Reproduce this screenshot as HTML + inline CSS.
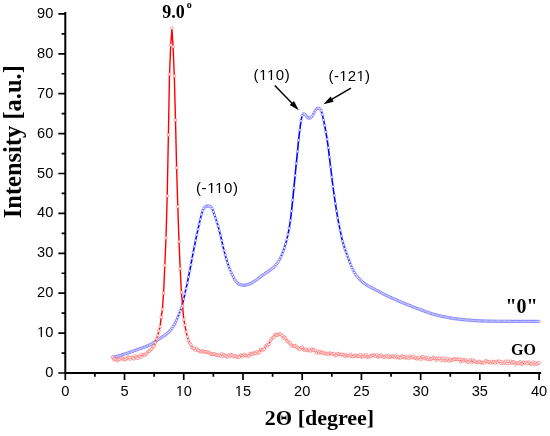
<!DOCTYPE html>
<html><head><meta charset="utf-8"><title>XRD</title>
<style>
html,body{margin:0;padding:0;background:#fff;}
body{width:550px;height:436px;overflow:hidden;}
svg{display:block;}
.s{font-family:"Liberation Sans",Arial,sans-serif;font-size:15px;fill:#000;}
.a{letter-spacing:0.6px;}
.t{font-size:14.6px;}
.b{font-family:"Liberation Serif","Times New Roman",serif;font-weight:bold;fill:#000;}
</style></head><body>
<svg width="550" height="436" viewBox="0 0 550 436">

<path d="M65.30,373.0V380.0M124.53,373.0V380.0M183.75,373.0V380.0M242.98,373.0V380.0M302.20,373.0V380.0M361.43,373.0V380.0M420.65,373.0V380.0M479.88,373.0V380.0M539.10,373.0V380.0M94.91,373.0V376.7M154.14,373.0V376.7M213.36,373.0V376.7M272.59,373.0V376.7M331.81,373.0V376.7M391.04,373.0V376.7M450.26,373.0V376.7M509.49,373.0V376.7M65.3,373.00H58.3M65.3,333.10H58.3M65.3,293.20H58.3M65.3,253.30H58.3M65.3,213.40H58.3M65.3,173.50H58.3M65.3,133.60H58.3M65.3,93.70H58.3M65.3,53.80H58.3M65.3,13.90H58.3M65.3,353.05H61.599999999999994M65.3,313.15H61.599999999999994M65.3,273.25H61.599999999999994M65.3,233.35H61.599999999999994M65.3,193.45H61.599999999999994M65.3,153.55H61.599999999999994M65.3,113.65H61.599999999999994M65.3,73.75H61.599999999999994M65.3,33.85H61.599999999999994" stroke="#000" stroke-width="1.7" fill="none"/>
<path d="M65.3,12.90V373.0H540.10" stroke="#000" stroke-width="2.0" fill="none" stroke-linejoin="miter" stroke-linecap="square"/>
<text class="s t" x="65.30" y="396" text-anchor="middle">0</text>
<text class="s t" x="124.53" y="396" text-anchor="middle">5</text>
<text class="s t" x="183.75" y="396" text-anchor="middle">10</text>
<text class="s t" x="242.98" y="396" text-anchor="middle">15</text>
<text class="s t" x="302.20" y="396" text-anchor="middle">20</text>
<text class="s t" x="361.43" y="396" text-anchor="middle">25</text>
<text class="s t" x="420.65" y="396" text-anchor="middle">30</text>
<text class="s t" x="479.88" y="396" text-anchor="middle">35</text>
<text class="s t" x="539.10" y="396" text-anchor="middle">40</text>
<text class="s t" x="53.3" y="377.00" text-anchor="end">0</text>
<text class="s t" x="53.3" y="337.10" text-anchor="end">10</text>
<text class="s t" x="53.3" y="297.20" text-anchor="end">20</text>
<text class="s t" x="53.3" y="257.30" text-anchor="end">30</text>
<text class="s t" x="53.3" y="217.40" text-anchor="end">40</text>
<text class="s t" x="53.3" y="177.50" text-anchor="end">50</text>
<text class="s t" x="53.3" y="137.60" text-anchor="end">60</text>
<text class="s t" x="53.3" y="97.70" text-anchor="end">70</text>
<text class="s t" x="53.3" y="57.80" text-anchor="end">80</text>
<text class="s t" x="53.3" y="17.90" text-anchor="end">90</text>
<polyline points="112.7,357.4 113.9,357.1 115.0,356.8 116.2,356.5 117.4,356.2 118.6,355.8 119.8,355.5 121.0,355.2 122.2,354.8 123.3,354.4 124.5,354.1 125.7,353.7 126.9,353.3 128.1,352.9 129.3,352.5 130.4,352.1 131.6,351.7 132.8,351.3 134.0,350.8 135.2,350.4 136.4,350.0 137.6,349.5 138.7,349.1 139.9,348.7 141.1,348.3 142.3,347.9 143.5,347.5 144.7,347.0 145.8,346.6 147.0,346.1 148.2,345.6 149.4,345.1 150.6,344.5 151.8,343.9 153.0,343.1 154.1,342.2 155.3,341.4 156.5,340.6 157.7,339.9 158.9,339.2 160.1,338.4 161.2,337.6 162.4,336.9 163.6,336.1 164.8,335.3 166.0,334.4 167.2,333.4 168.4,332.4 169.5,331.2 170.7,329.9 171.9,328.3 173.1,326.6 174.3,324.6 175.5,322.5 176.6,320.2 177.8,317.4 179.0,314.1 180.2,310.9 181.4,307.9 182.6,303.7 183.8,298.9 184.9,293.8 186.1,288.4 187.3,282.8 188.5,277.0 189.7,271.0 190.9,264.8 192.0,258.6 193.2,252.4 194.4,246.3 195.6,240.4 196.8,234.7 198.0,229.3 199.1,224.1 200.3,219.2 201.5,214.4 202.7,210.7 203.9,208.3 205.1,207.0 206.3,206.3 207.4,206.0 208.6,205.9 209.8,206.3 211.0,207.0 212.2,208.5 213.4,211.8 214.5,215.0 215.7,218.3 216.9,222.0 218.1,226.1 219.3,230.6 220.5,235.4 221.7,240.4 222.8,245.5 224.0,250.4 225.2,254.9 226.4,259.1 227.6,262.8 228.8,266.3 229.9,269.4 231.1,272.2 232.3,274.8 233.5,277.3 234.7,279.7 235.9,281.3 237.1,282.6 238.2,283.6 239.4,284.3 240.6,284.7 241.8,285.0 243.0,285.3 244.2,285.3 245.3,285.1 246.5,284.9 247.7,284.5 248.9,284.2 250.1,283.7 251.3,283.2 252.5,282.5 253.6,281.7 254.8,280.9 256.0,280.1 257.2,279.3 258.4,278.4 259.6,277.5 260.7,276.6 261.9,275.7 263.1,274.9 264.3,274.1 265.5,273.2 266.7,272.4 267.8,271.6 269.0,270.8 270.2,270.0 271.4,269.2 272.6,268.3 273.8,267.3 275.0,266.0 276.1,264.6 277.3,263.1 278.5,261.4 279.7,259.4 280.9,256.9 282.1,254.1 283.2,251.1 284.4,247.8 285.6,244.0 286.8,239.6 288.0,234.4 289.2,228.2 290.4,220.5 291.5,211.1 292.7,200.1 293.9,187.9 295.1,175.5 296.3,163.4 297.5,151.5 298.6,140.2 299.8,129.9 301.0,120.9 302.2,115.4 303.4,113.8 304.6,114.3 305.8,115.2 306.9,116.9 308.1,117.8 309.3,118.2 310.5,117.8 311.7,116.8 312.9,115.2 314.0,112.8 315.2,110.7 316.4,109.1 317.6,108.3 318.8,108.3 320.0,108.9 321.2,110.7 322.3,114.4 323.5,119.9 324.7,125.5 325.9,132.0 327.1,139.3 328.3,147.7 329.4,157.1 330.6,167.0 331.8,177.0 333.0,186.6 334.2,195.5 335.4,203.6 336.6,211.0 337.7,217.9 338.9,224.2 340.1,230.2 341.3,235.9 342.5,241.2 343.7,245.0 344.8,248.7 346.0,252.0 347.2,255.4 348.4,258.6 349.6,261.7 350.8,264.7 351.9,267.5 353.1,270.0 354.3,272.4 355.5,274.4 356.7,275.9 357.9,277.3 359.1,278.6 360.2,279.9 361.4,281.0 362.6,282.1 363.8,283.0 365.0,283.8 366.2,284.6 367.3,285.4 368.5,286.1 369.7,286.7 370.9,287.4 372.1,288.0 373.3,288.6 374.5,289.2 375.6,289.9 376.8,290.5 378.0,291.1 379.2,291.7 380.4,292.3 381.6,293.0 382.7,293.6 383.9,294.2 385.1,294.8 386.3,295.3 387.5,295.9 388.7,296.5 389.9,297.0 391.0,297.6 392.2,298.1 393.4,298.7 394.6,299.2 395.8,299.7 397.0,300.3 398.1,300.8 399.3,301.3 400.5,301.8 401.7,302.3 402.9,302.8 404.1,303.3 405.3,303.8 406.4,304.3 407.6,304.7 408.8,305.2 410.0,305.7 411.2,306.1 412.4,306.6 413.5,307.1 414.7,307.5 415.9,308.0 417.1,308.4 418.3,308.9 419.5,309.3 420.7,309.8 421.8,310.2 423.0,310.6 424.2,311.1 425.4,311.5 426.6,312.0 427.8,312.4 428.9,312.8 430.1,313.2 431.3,313.6 432.5,313.9 433.7,314.3 434.9,314.6 436.0,314.9 437.2,315.2 438.4,315.5 439.6,315.7 440.8,316.0 442.0,316.3 443.2,316.5 444.3,316.8 445.5,317.0 446.7,317.2 447.9,317.5 449.1,317.7 450.3,317.9 451.4,318.1 452.6,318.3 453.8,318.5 455.0,318.7 456.2,318.8 457.4,319.0 458.6,319.1 459.7,319.3 460.9,319.4 462.1,319.5 463.3,319.6 464.5,319.8 465.7,319.9 466.8,320.0 468.0,320.1 469.2,320.2 470.4,320.3 471.6,320.4 472.8,320.5 474.0,320.5 475.1,320.6 476.3,320.7 477.5,320.7 478.7,320.8 479.9,320.9 481.1,320.9 482.2,321.0 483.4,321.0 484.6,321.1 485.8,321.1 487.0,321.1 488.2,321.2 489.4,321.2 490.5,321.2 491.7,321.2 492.9,321.2 494.1,321.2 495.3,321.3 496.5,321.3 497.6,321.3 498.8,321.3 500.0,321.3 501.2,321.3 502.4,321.3 503.6,321.3 504.7,321.3 505.9,321.3 507.1,321.3 508.3,321.3 509.5,321.3 510.7,321.4 511.9,321.4 513.0,321.4 514.2,321.4 515.4,321.4 516.6,321.4 517.8,321.4 519.0,321.4 520.1,321.4 521.3,321.4 522.5,321.4 523.7,321.4 524.9,321.4 526.1,321.4 527.3,321.4 528.4,321.4 529.6,321.4 530.8,321.4 532.0,321.4 533.2,321.4 534.4,321.4 535.5,321.4 536.7,321.4 537.9,321.4 539.1,321.4" fill="none" stroke="#0000ff" stroke-width="1.6" stroke-linejoin="round"/>
<g fill="#fff" stroke="#3c3cff" stroke-width="0.45"><circle cx="112.7" cy="357.4" r="1.25"/><circle cx="113.9" cy="357.1" r="1.25"/><circle cx="115.0" cy="356.8" r="1.25"/><circle cx="116.2" cy="356.5" r="1.25"/><circle cx="117.4" cy="356.2" r="1.25"/><circle cx="118.6" cy="355.8" r="1.25"/><circle cx="119.8" cy="355.5" r="1.25"/><circle cx="121.0" cy="355.2" r="1.25"/><circle cx="122.2" cy="354.8" r="1.25"/><circle cx="123.3" cy="354.4" r="1.25"/><circle cx="124.5" cy="354.1" r="1.25"/><circle cx="125.7" cy="353.7" r="1.25"/><circle cx="126.9" cy="353.3" r="1.25"/><circle cx="128.1" cy="352.9" r="1.25"/><circle cx="129.3" cy="352.5" r="1.25"/><circle cx="130.4" cy="352.1" r="1.25"/><circle cx="131.6" cy="351.7" r="1.25"/><circle cx="132.8" cy="351.3" r="1.25"/><circle cx="134.0" cy="350.8" r="1.25"/><circle cx="135.2" cy="350.4" r="1.25"/><circle cx="136.4" cy="350.0" r="1.25"/><circle cx="137.6" cy="349.5" r="1.25"/><circle cx="138.7" cy="349.1" r="1.25"/><circle cx="139.9" cy="348.7" r="1.25"/><circle cx="141.1" cy="348.3" r="1.25"/><circle cx="142.3" cy="347.9" r="1.25"/><circle cx="143.5" cy="347.5" r="1.25"/><circle cx="144.7" cy="347.0" r="1.25"/><circle cx="145.8" cy="346.6" r="1.25"/><circle cx="147.0" cy="346.1" r="1.25"/><circle cx="148.2" cy="345.6" r="1.25"/><circle cx="149.4" cy="345.1" r="1.25"/><circle cx="150.6" cy="344.5" r="1.25"/><circle cx="151.8" cy="343.9" r="1.25"/><circle cx="153.0" cy="343.1" r="1.25"/><circle cx="154.1" cy="342.2" r="1.25"/><circle cx="155.3" cy="341.4" r="1.25"/><circle cx="156.5" cy="340.6" r="1.25"/><circle cx="157.7" cy="339.9" r="1.25"/><circle cx="158.9" cy="339.2" r="1.25"/><circle cx="160.1" cy="338.4" r="1.25"/><circle cx="161.2" cy="337.6" r="1.25"/><circle cx="162.4" cy="336.9" r="1.25"/><circle cx="163.6" cy="336.1" r="1.25"/><circle cx="164.8" cy="335.3" r="1.25"/><circle cx="166.0" cy="334.4" r="1.25"/><circle cx="167.2" cy="333.4" r="1.25"/><circle cx="168.4" cy="332.4" r="1.25"/><circle cx="169.5" cy="331.2" r="1.25"/><circle cx="170.7" cy="329.9" r="1.25"/><circle cx="171.9" cy="328.3" r="1.25"/><circle cx="173.1" cy="326.6" r="1.25"/><circle cx="174.3" cy="324.6" r="1.25"/><circle cx="175.5" cy="322.5" r="1.25"/><circle cx="176.6" cy="320.2" r="1.25"/><circle cx="177.8" cy="317.4" r="1.25"/><circle cx="179.0" cy="314.1" r="1.25"/><circle cx="180.2" cy="310.9" r="1.25"/><circle cx="181.4" cy="307.9" r="1.25"/><circle cx="182.6" cy="303.7" r="1.25"/><circle cx="183.8" cy="298.9" r="1.25"/><circle cx="184.9" cy="293.8" r="1.25"/><circle cx="186.1" cy="288.4" r="1.25"/><circle cx="187.3" cy="282.8" r="1.25"/><circle cx="188.5" cy="277.0" r="1.25"/><circle cx="189.7" cy="271.0" r="1.25"/><circle cx="190.9" cy="264.8" r="1.25"/><circle cx="192.0" cy="258.6" r="1.25"/><circle cx="193.2" cy="252.4" r="1.25"/><circle cx="194.4" cy="246.3" r="1.25"/><circle cx="195.6" cy="240.4" r="1.25"/><circle cx="196.8" cy="234.7" r="1.25"/><circle cx="198.0" cy="229.3" r="1.25"/><circle cx="199.1" cy="224.1" r="1.25"/><circle cx="200.3" cy="219.2" r="1.25"/><circle cx="201.5" cy="214.4" r="1.25"/><circle cx="202.7" cy="210.7" r="1.25"/><circle cx="203.9" cy="208.3" r="1.25"/><circle cx="205.1" cy="207.0" r="1.25"/><circle cx="206.3" cy="206.3" r="1.25"/><circle cx="207.4" cy="206.0" r="1.25"/><circle cx="208.6" cy="205.9" r="1.25"/><circle cx="209.8" cy="206.3" r="1.25"/><circle cx="211.0" cy="207.0" r="1.25"/><circle cx="212.2" cy="208.5" r="1.25"/><circle cx="213.4" cy="211.8" r="1.25"/><circle cx="214.5" cy="215.0" r="1.25"/><circle cx="215.7" cy="218.3" r="1.25"/><circle cx="216.9" cy="222.0" r="1.25"/><circle cx="218.1" cy="226.1" r="1.25"/><circle cx="219.3" cy="230.6" r="1.25"/><circle cx="220.5" cy="235.4" r="1.25"/><circle cx="221.7" cy="240.4" r="1.25"/><circle cx="222.8" cy="245.5" r="1.25"/><circle cx="224.0" cy="250.4" r="1.25"/><circle cx="225.2" cy="254.9" r="1.25"/><circle cx="226.4" cy="259.1" r="1.25"/><circle cx="227.6" cy="262.8" r="1.25"/><circle cx="228.8" cy="266.3" r="1.25"/><circle cx="229.9" cy="269.4" r="1.25"/><circle cx="231.1" cy="272.2" r="1.25"/><circle cx="232.3" cy="274.8" r="1.25"/><circle cx="233.5" cy="277.3" r="1.25"/><circle cx="234.7" cy="279.7" r="1.25"/><circle cx="235.9" cy="281.3" r="1.25"/><circle cx="237.1" cy="282.6" r="1.25"/><circle cx="238.2" cy="283.6" r="1.25"/><circle cx="239.4" cy="284.3" r="1.25"/><circle cx="240.6" cy="284.7" r="1.25"/><circle cx="241.8" cy="285.0" r="1.25"/><circle cx="243.0" cy="285.3" r="1.25"/><circle cx="244.2" cy="285.3" r="1.25"/><circle cx="245.3" cy="285.1" r="1.25"/><circle cx="246.5" cy="284.9" r="1.25"/><circle cx="247.7" cy="284.5" r="1.25"/><circle cx="248.9" cy="284.2" r="1.25"/><circle cx="250.1" cy="283.7" r="1.25"/><circle cx="251.3" cy="283.2" r="1.25"/><circle cx="252.5" cy="282.5" r="1.25"/><circle cx="253.6" cy="281.7" r="1.25"/><circle cx="254.8" cy="280.9" r="1.25"/><circle cx="256.0" cy="280.1" r="1.25"/><circle cx="257.2" cy="279.3" r="1.25"/><circle cx="258.4" cy="278.4" r="1.25"/><circle cx="259.6" cy="277.5" r="1.25"/><circle cx="260.7" cy="276.6" r="1.25"/><circle cx="261.9" cy="275.7" r="1.25"/><circle cx="263.1" cy="274.9" r="1.25"/><circle cx="264.3" cy="274.1" r="1.25"/><circle cx="265.5" cy="273.2" r="1.25"/><circle cx="266.7" cy="272.4" r="1.25"/><circle cx="267.8" cy="271.6" r="1.25"/><circle cx="269.0" cy="270.8" r="1.25"/><circle cx="270.2" cy="270.0" r="1.25"/><circle cx="271.4" cy="269.2" r="1.25"/><circle cx="272.6" cy="268.3" r="1.25"/><circle cx="273.8" cy="267.3" r="1.25"/><circle cx="275.0" cy="266.0" r="1.25"/><circle cx="276.1" cy="264.6" r="1.25"/><circle cx="277.3" cy="263.1" r="1.25"/><circle cx="278.5" cy="261.4" r="1.25"/><circle cx="279.7" cy="259.4" r="1.25"/><circle cx="280.9" cy="256.9" r="1.25"/><circle cx="282.1" cy="254.1" r="1.25"/><circle cx="283.2" cy="251.1" r="1.25"/><circle cx="284.4" cy="247.8" r="1.25"/><circle cx="285.6" cy="244.0" r="1.25"/><circle cx="286.8" cy="239.6" r="1.25"/><circle cx="288.0" cy="234.4" r="1.25"/><circle cx="289.2" cy="228.2" r="1.25"/><circle cx="290.4" cy="220.5" r="1.25"/><circle cx="291.5" cy="211.1" r="1.25"/><circle cx="292.7" cy="200.1" r="1.25"/><circle cx="293.9" cy="187.9" r="1.25"/><circle cx="295.1" cy="175.5" r="1.25"/><circle cx="296.3" cy="163.4" r="1.25"/><circle cx="297.5" cy="151.5" r="1.25"/><circle cx="298.6" cy="140.2" r="1.25"/><circle cx="299.8" cy="129.9" r="1.25"/><circle cx="301.0" cy="120.9" r="1.25"/><circle cx="302.2" cy="115.4" r="1.25"/><circle cx="303.4" cy="113.8" r="1.25"/><circle cx="304.6" cy="114.3" r="1.25"/><circle cx="305.8" cy="115.2" r="1.25"/><circle cx="306.9" cy="116.9" r="1.25"/><circle cx="308.1" cy="117.8" r="1.25"/><circle cx="309.3" cy="118.2" r="1.25"/><circle cx="310.5" cy="117.8" r="1.25"/><circle cx="311.7" cy="116.8" r="1.25"/><circle cx="312.9" cy="115.2" r="1.25"/><circle cx="314.0" cy="112.8" r="1.25"/><circle cx="315.2" cy="110.7" r="1.25"/><circle cx="316.4" cy="109.1" r="1.25"/><circle cx="317.6" cy="108.3" r="1.25"/><circle cx="318.8" cy="108.3" r="1.25"/><circle cx="320.0" cy="108.9" r="1.25"/><circle cx="321.2" cy="110.7" r="1.25"/><circle cx="322.3" cy="114.4" r="1.25"/><circle cx="323.5" cy="119.9" r="1.25"/><circle cx="324.7" cy="125.5" r="1.25"/><circle cx="325.9" cy="132.0" r="1.25"/><circle cx="327.1" cy="139.3" r="1.25"/><circle cx="328.3" cy="147.7" r="1.25"/><circle cx="329.4" cy="157.1" r="1.25"/><circle cx="330.6" cy="167.0" r="1.25"/><circle cx="331.8" cy="177.0" r="1.25"/><circle cx="333.0" cy="186.6" r="1.25"/><circle cx="334.2" cy="195.5" r="1.25"/><circle cx="335.4" cy="203.6" r="1.25"/><circle cx="336.6" cy="211.0" r="1.25"/><circle cx="337.7" cy="217.9" r="1.25"/><circle cx="338.9" cy="224.2" r="1.25"/><circle cx="340.1" cy="230.2" r="1.25"/><circle cx="341.3" cy="235.9" r="1.25"/><circle cx="342.5" cy="241.2" r="1.25"/><circle cx="343.7" cy="245.0" r="1.25"/><circle cx="344.8" cy="248.7" r="1.25"/><circle cx="346.0" cy="252.0" r="1.25"/><circle cx="347.2" cy="255.4" r="1.25"/><circle cx="348.4" cy="258.6" r="1.25"/><circle cx="349.6" cy="261.7" r="1.25"/><circle cx="350.8" cy="264.7" r="1.25"/><circle cx="351.9" cy="267.5" r="1.25"/><circle cx="353.1" cy="270.0" r="1.25"/><circle cx="354.3" cy="272.4" r="1.25"/><circle cx="355.5" cy="274.4" r="1.25"/><circle cx="356.7" cy="275.9" r="1.25"/><circle cx="357.9" cy="277.3" r="1.25"/><circle cx="359.1" cy="278.6" r="1.25"/><circle cx="360.2" cy="279.9" r="1.25"/><circle cx="361.4" cy="281.0" r="1.25"/><circle cx="362.6" cy="282.1" r="1.25"/><circle cx="363.8" cy="283.0" r="1.25"/><circle cx="365.0" cy="283.8" r="1.25"/><circle cx="366.2" cy="284.6" r="1.25"/><circle cx="367.3" cy="285.4" r="1.25"/><circle cx="368.5" cy="286.1" r="1.25"/><circle cx="369.7" cy="286.7" r="1.25"/><circle cx="370.9" cy="287.4" r="1.25"/><circle cx="372.1" cy="288.0" r="1.25"/><circle cx="373.3" cy="288.6" r="1.25"/><circle cx="374.5" cy="289.2" r="1.25"/><circle cx="375.6" cy="289.9" r="1.25"/><circle cx="376.8" cy="290.5" r="1.25"/><circle cx="378.0" cy="291.1" r="1.25"/><circle cx="379.2" cy="291.7" r="1.25"/><circle cx="380.4" cy="292.3" r="1.25"/><circle cx="381.6" cy="293.0" r="1.25"/><circle cx="382.7" cy="293.6" r="1.25"/><circle cx="383.9" cy="294.2" r="1.25"/><circle cx="385.1" cy="294.8" r="1.25"/><circle cx="386.3" cy="295.3" r="1.25"/><circle cx="387.5" cy="295.9" r="1.25"/><circle cx="388.7" cy="296.5" r="1.25"/><circle cx="389.9" cy="297.0" r="1.25"/><circle cx="391.0" cy="297.6" r="1.25"/><circle cx="392.2" cy="298.1" r="1.25"/><circle cx="393.4" cy="298.7" r="1.25"/><circle cx="394.6" cy="299.2" r="1.25"/><circle cx="395.8" cy="299.7" r="1.25"/><circle cx="397.0" cy="300.3" r="1.25"/><circle cx="398.1" cy="300.8" r="1.25"/><circle cx="399.3" cy="301.3" r="1.25"/><circle cx="400.5" cy="301.8" r="1.25"/><circle cx="401.7" cy="302.3" r="1.25"/><circle cx="402.9" cy="302.8" r="1.25"/><circle cx="404.1" cy="303.3" r="1.25"/><circle cx="405.3" cy="303.8" r="1.25"/><circle cx="406.4" cy="304.3" r="1.25"/><circle cx="407.6" cy="304.7" r="1.25"/><circle cx="408.8" cy="305.2" r="1.25"/><circle cx="410.0" cy="305.7" r="1.25"/><circle cx="411.2" cy="306.1" r="1.25"/><circle cx="412.4" cy="306.6" r="1.25"/><circle cx="413.5" cy="307.1" r="1.25"/><circle cx="414.7" cy="307.5" r="1.25"/><circle cx="415.9" cy="308.0" r="1.25"/><circle cx="417.1" cy="308.4" r="1.25"/><circle cx="418.3" cy="308.9" r="1.25"/><circle cx="419.5" cy="309.3" r="1.25"/><circle cx="420.7" cy="309.8" r="1.25"/><circle cx="421.8" cy="310.2" r="1.25"/><circle cx="423.0" cy="310.6" r="1.25"/><circle cx="424.2" cy="311.1" r="1.25"/><circle cx="425.4" cy="311.5" r="1.25"/><circle cx="426.6" cy="312.0" r="1.25"/><circle cx="427.8" cy="312.4" r="1.25"/><circle cx="428.9" cy="312.8" r="1.25"/><circle cx="430.1" cy="313.2" r="1.25"/><circle cx="431.3" cy="313.6" r="1.25"/><circle cx="432.5" cy="313.9" r="1.25"/><circle cx="433.7" cy="314.3" r="1.25"/><circle cx="434.9" cy="314.6" r="1.25"/><circle cx="436.0" cy="314.9" r="1.25"/><circle cx="437.2" cy="315.2" r="1.25"/><circle cx="438.4" cy="315.5" r="1.25"/><circle cx="439.6" cy="315.7" r="1.25"/><circle cx="440.8" cy="316.0" r="1.25"/><circle cx="442.0" cy="316.3" r="1.25"/><circle cx="443.2" cy="316.5" r="1.25"/><circle cx="444.3" cy="316.8" r="1.25"/><circle cx="445.5" cy="317.0" r="1.25"/><circle cx="446.7" cy="317.2" r="1.25"/><circle cx="447.9" cy="317.5" r="1.25"/><circle cx="449.1" cy="317.7" r="1.25"/><circle cx="450.3" cy="317.9" r="1.25"/><circle cx="451.4" cy="318.1" r="1.25"/><circle cx="452.6" cy="318.3" r="1.25"/><circle cx="453.8" cy="318.5" r="1.25"/><circle cx="455.0" cy="318.7" r="1.25"/><circle cx="456.2" cy="318.8" r="1.25"/><circle cx="457.4" cy="319.0" r="1.25"/><circle cx="458.6" cy="319.1" r="1.25"/><circle cx="459.7" cy="319.3" r="1.25"/><circle cx="460.9" cy="319.4" r="1.25"/><circle cx="462.1" cy="319.5" r="1.25"/><circle cx="463.3" cy="319.6" r="1.25"/><circle cx="464.5" cy="319.8" r="1.25"/><circle cx="465.7" cy="319.9" r="1.25"/><circle cx="466.8" cy="320.0" r="1.25"/><circle cx="468.0" cy="320.1" r="1.25"/><circle cx="469.2" cy="320.2" r="1.25"/><circle cx="470.4" cy="320.3" r="1.25"/><circle cx="471.6" cy="320.4" r="1.25"/><circle cx="472.8" cy="320.5" r="1.25"/><circle cx="474.0" cy="320.5" r="1.25"/><circle cx="475.1" cy="320.6" r="1.25"/><circle cx="476.3" cy="320.7" r="1.25"/><circle cx="477.5" cy="320.7" r="1.25"/><circle cx="478.7" cy="320.8" r="1.25"/><circle cx="479.9" cy="320.9" r="1.25"/><circle cx="481.1" cy="320.9" r="1.25"/><circle cx="482.2" cy="321.0" r="1.25"/><circle cx="483.4" cy="321.0" r="1.25"/><circle cx="484.6" cy="321.1" r="1.25"/><circle cx="485.8" cy="321.1" r="1.25"/><circle cx="487.0" cy="321.1" r="1.25"/><circle cx="488.2" cy="321.2" r="1.25"/><circle cx="489.4" cy="321.2" r="1.25"/><circle cx="490.5" cy="321.2" r="1.25"/><circle cx="491.7" cy="321.2" r="1.25"/><circle cx="492.9" cy="321.2" r="1.25"/><circle cx="494.1" cy="321.2" r="1.25"/><circle cx="495.3" cy="321.3" r="1.25"/><circle cx="496.5" cy="321.3" r="1.25"/><circle cx="497.6" cy="321.3" r="1.25"/><circle cx="498.8" cy="321.3" r="1.25"/><circle cx="500.0" cy="321.3" r="1.25"/><circle cx="501.2" cy="321.3" r="1.25"/><circle cx="502.4" cy="321.3" r="1.25"/><circle cx="503.6" cy="321.3" r="1.25"/><circle cx="504.7" cy="321.3" r="1.25"/><circle cx="505.9" cy="321.3" r="1.25"/><circle cx="507.1" cy="321.3" r="1.25"/><circle cx="508.3" cy="321.3" r="1.25"/><circle cx="509.5" cy="321.3" r="1.25"/><circle cx="510.7" cy="321.4" r="1.25"/><circle cx="511.9" cy="321.4" r="1.25"/><circle cx="513.0" cy="321.4" r="1.25"/><circle cx="514.2" cy="321.4" r="1.25"/><circle cx="515.4" cy="321.4" r="1.25"/><circle cx="516.6" cy="321.4" r="1.25"/><circle cx="517.8" cy="321.4" r="1.25"/><circle cx="519.0" cy="321.4" r="1.25"/><circle cx="520.1" cy="321.4" r="1.25"/><circle cx="521.3" cy="321.4" r="1.25"/><circle cx="522.5" cy="321.4" r="1.25"/><circle cx="523.7" cy="321.4" r="1.25"/><circle cx="524.9" cy="321.4" r="1.25"/><circle cx="526.1" cy="321.4" r="1.25"/><circle cx="527.3" cy="321.4" r="1.25"/><circle cx="528.4" cy="321.4" r="1.25"/><circle cx="529.6" cy="321.4" r="1.25"/><circle cx="530.8" cy="321.4" r="1.25"/><circle cx="532.0" cy="321.4" r="1.25"/><circle cx="533.2" cy="321.4" r="1.25"/><circle cx="534.4" cy="321.4" r="1.25"/><circle cx="535.5" cy="321.4" r="1.25"/><circle cx="536.7" cy="321.4" r="1.25"/><circle cx="537.9" cy="321.4" r="1.25"/><circle cx="539.1" cy="321.4" r="1.25"/></g>
<polyline points="112.7,357.3 113.9,359.5 115.0,358.8 116.2,359.8 117.4,360.6 118.6,359.4 119.8,359.3 121.0,358.0 122.2,358.4 123.3,358.9 124.5,359.3 125.7,359.5 126.9,358.2 128.1,357.2 129.3,357.7 130.4,359.2 131.6,357.2 132.8,357.7 134.0,358.8 135.2,356.2 136.4,357.5 137.6,358.2 138.7,356.0 139.9,356.5 141.1,357.0 142.3,354.4 143.5,354.9 144.7,355.0 145.8,354.1 147.0,352.9 148.2,351.4 149.4,351.2 150.6,349.8 151.8,348.8 153.0,346.8 154.1,346.0 155.3,342.7 156.5,339.0 157.7,335.4 158.9,331.0 160.1,326.7 161.2,317.2 162.4,309.4 163.6,293.0 164.8,265.5 166.0,238.0 167.2,196.0 168.4,135.0 169.5,74.2 170.7,45.2 171.9,28.2 173.1,46.7 174.3,76.1 175.5,120.1 176.6,167.8 177.8,206.7 179.0,241.6 180.2,268.6 181.4,292.3 182.6,306.0 183.8,319.7 184.9,325.2 186.1,331.9 187.3,336.7 188.5,340.2 189.7,343.1 190.9,344.9 192.0,347.6 193.2,348.5 194.4,348.4 195.6,350.2 196.8,348.9 198.0,349.9 199.1,350.8 200.3,351.9 201.5,351.5 202.7,350.9 203.9,351.7 205.1,351.9 206.3,352.0 207.4,351.9 208.6,352.7 209.8,353.0 211.0,354.1 212.2,354.4 213.4,353.8 214.5,353.9 215.7,354.9 216.9,355.4 218.1,355.0 219.3,355.5 220.5,356.1 221.7,353.8 222.8,356.2 224.0,354.8 225.2,355.6 226.4,356.7 227.6,356.6 228.8,355.0 229.9,356.4 231.1,354.7 232.3,355.4 233.5,356.6 234.7,355.7 235.9,356.3 237.1,356.8 238.2,357.1 239.4,357.0 240.6,354.9 241.8,355.8 243.0,355.8 244.2,354.5 245.3,355.6 246.5,355.5 247.7,355.9 248.9,356.0 250.1,353.6 251.3,353.7 252.5,354.7 253.6,353.0 254.8,353.0 256.0,353.5 257.2,351.8 258.4,352.8 259.6,352.3 260.7,349.3 261.9,349.8 263.1,349.7 264.3,349.2 265.5,346.4 266.7,345.0 267.8,345.7 269.0,344.5 270.2,340.8 271.4,339.2 272.6,337.9 273.8,337.0 275.0,334.4 276.1,335.1 277.3,335.2 278.5,334.5 279.7,333.9 280.9,334.2 282.1,335.7 283.2,338.1 284.4,337.0 285.6,338.3 286.8,340.8 288.0,341.5 289.2,342.8 290.4,343.2 291.5,345.2 292.7,346.2 293.9,346.0 295.1,345.7 296.3,346.6 297.5,347.6 298.6,348.9 299.8,349.3 301.0,347.6 302.2,347.2 303.4,349.6 304.6,350.1 305.8,349.0 306.9,350.1 308.1,350.6 309.3,350.1 310.5,351.0 311.7,349.0 312.9,349.9 314.0,350.3 315.2,350.4 316.4,353.0 317.6,351.0 318.8,353.0 320.0,351.6 321.2,352.6 322.3,352.9 323.5,352.5 324.7,353.5 325.9,353.7 327.1,353.3 328.3,354.5 329.4,353.1 330.6,353.3 331.8,353.8 333.0,354.0 334.2,353.6 335.4,355.6 336.6,355.5 337.7,353.6 338.9,354.4 340.1,354.2 341.3,354.8 342.5,354.4 343.7,355.1 344.8,356.3 346.0,355.0 347.2,355.7 348.4,355.7 349.6,356.1 350.8,354.3 351.9,356.2 353.1,356.8 354.3,355.9 355.5,355.1 356.7,356.1 357.9,356.3 359.1,356.1 360.2,354.8 361.4,357.0 362.6,357.0 363.8,355.6 365.0,356.1 366.2,354.6 367.3,357.2 368.5,356.7 369.7,356.3 370.9,356.6 372.1,355.1 373.3,355.4 374.5,355.3 375.6,356.3 376.8,354.9 378.0,357.1 379.2,356.0 380.4,356.0 381.6,355.1 382.7,356.7 383.9,357.1 385.1,356.7 386.3,355.7 387.5,357.2 388.7,355.5 389.9,357.4 391.0,356.8 392.2,356.0 393.4,356.7 394.6,357.0 395.8,356.1 397.0,357.7 398.1,356.6 399.3,357.9 400.5,357.8 401.7,355.9 402.9,357.4 404.1,356.6 405.3,357.9 406.4,357.3 407.6,357.2 408.8,358.4 410.0,356.2 411.2,357.6 412.4,357.1 413.5,356.3 414.7,358.3 415.9,357.9 417.1,358.9 418.3,358.1 419.5,357.5 420.7,359.3 421.8,357.0 423.0,356.9 424.2,358.8 425.4,357.9 426.6,357.9 427.8,359.4 428.9,358.0 430.1,359.6 431.3,359.0 432.5,358.2 433.7,357.5 434.9,358.1 436.0,360.1 437.2,358.7 438.4,358.1 439.6,358.6 440.8,360.3 442.0,358.3 443.2,360.1 444.3,358.4 445.5,360.7 446.7,359.7 447.9,358.4 449.1,360.9 450.3,359.4 451.4,360.5 452.6,360.1 453.8,359.0 455.0,359.1 456.2,359.3 457.4,359.4 458.6,359.2 459.7,359.3 460.9,361.8 462.1,359.6 463.3,360.8 464.5,359.8 465.7,360.1 466.8,361.7 468.0,362.2 469.2,361.0 470.4,359.8 471.6,362.6 472.8,360.1 474.0,361.1 475.1,361.5 476.3,362.5 477.5,362.4 478.7,361.9 479.9,361.4 481.1,362.6 482.2,362.8 483.4,362.8 484.6,362.5 485.8,360.8 487.0,361.4 488.2,362.0 489.4,362.1 490.5,363.0 491.7,361.4 492.9,362.6 494.1,361.8 495.3,363.0 496.5,361.4 497.6,362.2 498.8,361.2 500.0,361.5 501.2,363.5 502.4,361.9 503.6,363.5 504.7,362.5 505.9,361.2 507.1,363.3 508.3,361.3 509.5,363.4 510.7,361.3 511.9,363.1 513.0,361.8 514.2,362.3 515.4,364.0 516.6,362.7 517.8,363.2 519.0,363.5 520.1,361.8 521.3,363.8 522.5,364.1 523.7,362.1 524.9,363.1 526.1,362.5 527.3,363.7 528.4,361.9 529.6,363.2 530.8,364.0 532.0,363.9 533.2,362.2 534.4,364.2 535.5,362.7 536.7,364.2 537.9,363.4 539.1,362.6" fill="none" stroke="#ff0000" stroke-width="1.4" stroke-linejoin="round"/>
<g fill="#fff" stroke="#ff3030" stroke-width="0.45"><circle cx="112.7" cy="357.3" r="1.4"/><circle cx="113.9" cy="359.5" r="1.4"/><circle cx="115.0" cy="358.8" r="1.4"/><circle cx="116.2" cy="359.8" r="1.4"/><circle cx="117.4" cy="360.6" r="1.4"/><circle cx="118.6" cy="359.4" r="1.4"/><circle cx="119.8" cy="359.3" r="1.4"/><circle cx="121.0" cy="358.0" r="1.4"/><circle cx="122.2" cy="358.4" r="1.4"/><circle cx="123.3" cy="358.9" r="1.4"/><circle cx="124.5" cy="359.3" r="1.4"/><circle cx="125.7" cy="359.5" r="1.4"/><circle cx="126.9" cy="358.2" r="1.4"/><circle cx="128.1" cy="357.2" r="1.4"/><circle cx="129.3" cy="357.7" r="1.4"/><circle cx="130.4" cy="359.2" r="1.4"/><circle cx="131.6" cy="357.2" r="1.4"/><circle cx="132.8" cy="357.7" r="1.4"/><circle cx="134.0" cy="358.8" r="1.4"/><circle cx="135.2" cy="356.2" r="1.4"/><circle cx="136.4" cy="357.5" r="1.4"/><circle cx="137.6" cy="358.2" r="1.4"/><circle cx="138.7" cy="356.0" r="1.4"/><circle cx="139.9" cy="356.5" r="1.4"/><circle cx="141.1" cy="357.0" r="1.4"/><circle cx="142.3" cy="354.4" r="1.4"/><circle cx="143.5" cy="354.9" r="1.4"/><circle cx="144.7" cy="355.0" r="1.4"/><circle cx="145.8" cy="354.1" r="1.4"/><circle cx="147.0" cy="352.9" r="1.4"/><circle cx="148.2" cy="351.4" r="1.4"/><circle cx="149.4" cy="351.2" r="1.4"/><circle cx="150.6" cy="349.8" r="1.4"/><circle cx="151.8" cy="348.8" r="1.4"/><circle cx="153.0" cy="346.8" r="1.4"/><circle cx="154.1" cy="346.0" r="1.4"/><circle cx="155.3" cy="342.7" r="1.4"/><circle cx="156.5" cy="339.0" r="1.4"/><circle cx="157.7" cy="335.4" r="1.4"/><circle cx="158.9" cy="331.0" r="1.4"/><circle cx="160.1" cy="326.7" r="1.4"/><circle cx="161.2" cy="317.2" r="1.4"/><circle cx="162.4" cy="309.4" r="1.4"/><circle cx="163.6" cy="293.0" r="1.4"/><circle cx="164.8" cy="265.5" r="1.4"/><circle cx="166.0" cy="238.0" r="1.4"/><circle cx="167.2" cy="196.0" r="1.4"/><circle cx="168.4" cy="135.0" r="1.4"/><circle cx="169.5" cy="74.2" r="1.4"/><circle cx="170.7" cy="45.2" r="1.4"/><circle cx="171.9" cy="28.2" r="1.4"/><circle cx="173.1" cy="46.7" r="1.4"/><circle cx="174.3" cy="76.1" r="1.4"/><circle cx="175.5" cy="120.1" r="1.4"/><circle cx="176.6" cy="167.8" r="1.4"/><circle cx="177.8" cy="206.7" r="1.4"/><circle cx="179.0" cy="241.6" r="1.4"/><circle cx="180.2" cy="268.6" r="1.4"/><circle cx="181.4" cy="292.3" r="1.4"/><circle cx="182.6" cy="306.0" r="1.4"/><circle cx="183.8" cy="319.7" r="1.4"/><circle cx="184.9" cy="325.2" r="1.4"/><circle cx="186.1" cy="331.9" r="1.4"/><circle cx="187.3" cy="336.7" r="1.4"/><circle cx="188.5" cy="340.2" r="1.4"/><circle cx="189.7" cy="343.1" r="1.4"/><circle cx="190.9" cy="344.9" r="1.4"/><circle cx="192.0" cy="347.6" r="1.4"/><circle cx="193.2" cy="348.5" r="1.4"/><circle cx="194.4" cy="348.4" r="1.4"/><circle cx="195.6" cy="350.2" r="1.4"/><circle cx="196.8" cy="348.9" r="1.4"/><circle cx="198.0" cy="349.9" r="1.4"/><circle cx="199.1" cy="350.8" r="1.4"/><circle cx="200.3" cy="351.9" r="1.4"/><circle cx="201.5" cy="351.5" r="1.4"/><circle cx="202.7" cy="350.9" r="1.4"/><circle cx="203.9" cy="351.7" r="1.4"/><circle cx="205.1" cy="351.9" r="1.4"/><circle cx="206.3" cy="352.0" r="1.4"/><circle cx="207.4" cy="351.9" r="1.4"/><circle cx="208.6" cy="352.7" r="1.4"/><circle cx="209.8" cy="353.0" r="1.4"/><circle cx="211.0" cy="354.1" r="1.4"/><circle cx="212.2" cy="354.4" r="1.4"/><circle cx="213.4" cy="353.8" r="1.4"/><circle cx="214.5" cy="353.9" r="1.4"/><circle cx="215.7" cy="354.9" r="1.4"/><circle cx="216.9" cy="355.4" r="1.4"/><circle cx="218.1" cy="355.0" r="1.4"/><circle cx="219.3" cy="355.5" r="1.4"/><circle cx="220.5" cy="356.1" r="1.4"/><circle cx="221.7" cy="353.8" r="1.4"/><circle cx="222.8" cy="356.2" r="1.4"/><circle cx="224.0" cy="354.8" r="1.4"/><circle cx="225.2" cy="355.6" r="1.4"/><circle cx="226.4" cy="356.7" r="1.4"/><circle cx="227.6" cy="356.6" r="1.4"/><circle cx="228.8" cy="355.0" r="1.4"/><circle cx="229.9" cy="356.4" r="1.4"/><circle cx="231.1" cy="354.7" r="1.4"/><circle cx="232.3" cy="355.4" r="1.4"/><circle cx="233.5" cy="356.6" r="1.4"/><circle cx="234.7" cy="355.7" r="1.4"/><circle cx="235.9" cy="356.3" r="1.4"/><circle cx="237.1" cy="356.8" r="1.4"/><circle cx="238.2" cy="357.1" r="1.4"/><circle cx="239.4" cy="357.0" r="1.4"/><circle cx="240.6" cy="354.9" r="1.4"/><circle cx="241.8" cy="355.8" r="1.4"/><circle cx="243.0" cy="355.8" r="1.4"/><circle cx="244.2" cy="354.5" r="1.4"/><circle cx="245.3" cy="355.6" r="1.4"/><circle cx="246.5" cy="355.5" r="1.4"/><circle cx="247.7" cy="355.9" r="1.4"/><circle cx="248.9" cy="356.0" r="1.4"/><circle cx="250.1" cy="353.6" r="1.4"/><circle cx="251.3" cy="353.7" r="1.4"/><circle cx="252.5" cy="354.7" r="1.4"/><circle cx="253.6" cy="353.0" r="1.4"/><circle cx="254.8" cy="353.0" r="1.4"/><circle cx="256.0" cy="353.5" r="1.4"/><circle cx="257.2" cy="351.8" r="1.4"/><circle cx="258.4" cy="352.8" r="1.4"/><circle cx="259.6" cy="352.3" r="1.4"/><circle cx="260.7" cy="349.3" r="1.4"/><circle cx="261.9" cy="349.8" r="1.4"/><circle cx="263.1" cy="349.7" r="1.4"/><circle cx="264.3" cy="349.2" r="1.4"/><circle cx="265.5" cy="346.4" r="1.4"/><circle cx="266.7" cy="345.0" r="1.4"/><circle cx="267.8" cy="345.7" r="1.4"/><circle cx="269.0" cy="344.5" r="1.4"/><circle cx="270.2" cy="340.8" r="1.4"/><circle cx="271.4" cy="339.2" r="1.4"/><circle cx="272.6" cy="337.9" r="1.4"/><circle cx="273.8" cy="337.0" r="1.4"/><circle cx="275.0" cy="334.4" r="1.4"/><circle cx="276.1" cy="335.1" r="1.4"/><circle cx="277.3" cy="335.2" r="1.4"/><circle cx="278.5" cy="334.5" r="1.4"/><circle cx="279.7" cy="333.9" r="1.4"/><circle cx="280.9" cy="334.2" r="1.4"/><circle cx="282.1" cy="335.7" r="1.4"/><circle cx="283.2" cy="338.1" r="1.4"/><circle cx="284.4" cy="337.0" r="1.4"/><circle cx="285.6" cy="338.3" r="1.4"/><circle cx="286.8" cy="340.8" r="1.4"/><circle cx="288.0" cy="341.5" r="1.4"/><circle cx="289.2" cy="342.8" r="1.4"/><circle cx="290.4" cy="343.2" r="1.4"/><circle cx="291.5" cy="345.2" r="1.4"/><circle cx="292.7" cy="346.2" r="1.4"/><circle cx="293.9" cy="346.0" r="1.4"/><circle cx="295.1" cy="345.7" r="1.4"/><circle cx="296.3" cy="346.6" r="1.4"/><circle cx="297.5" cy="347.6" r="1.4"/><circle cx="298.6" cy="348.9" r="1.4"/><circle cx="299.8" cy="349.3" r="1.4"/><circle cx="301.0" cy="347.6" r="1.4"/><circle cx="302.2" cy="347.2" r="1.4"/><circle cx="303.4" cy="349.6" r="1.4"/><circle cx="304.6" cy="350.1" r="1.4"/><circle cx="305.8" cy="349.0" r="1.4"/><circle cx="306.9" cy="350.1" r="1.4"/><circle cx="308.1" cy="350.6" r="1.4"/><circle cx="309.3" cy="350.1" r="1.4"/><circle cx="310.5" cy="351.0" r="1.4"/><circle cx="311.7" cy="349.0" r="1.4"/><circle cx="312.9" cy="349.9" r="1.4"/><circle cx="314.0" cy="350.3" r="1.4"/><circle cx="315.2" cy="350.4" r="1.4"/><circle cx="316.4" cy="353.0" r="1.4"/><circle cx="317.6" cy="351.0" r="1.4"/><circle cx="318.8" cy="353.0" r="1.4"/><circle cx="320.0" cy="351.6" r="1.4"/><circle cx="321.2" cy="352.6" r="1.4"/><circle cx="322.3" cy="352.9" r="1.4"/><circle cx="323.5" cy="352.5" r="1.4"/><circle cx="324.7" cy="353.5" r="1.4"/><circle cx="325.9" cy="353.7" r="1.4"/><circle cx="327.1" cy="353.3" r="1.4"/><circle cx="328.3" cy="354.5" r="1.4"/><circle cx="329.4" cy="353.1" r="1.4"/><circle cx="330.6" cy="353.3" r="1.4"/><circle cx="331.8" cy="353.8" r="1.4"/><circle cx="333.0" cy="354.0" r="1.4"/><circle cx="334.2" cy="353.6" r="1.4"/><circle cx="335.4" cy="355.6" r="1.4"/><circle cx="336.6" cy="355.5" r="1.4"/><circle cx="337.7" cy="353.6" r="1.4"/><circle cx="338.9" cy="354.4" r="1.4"/><circle cx="340.1" cy="354.2" r="1.4"/><circle cx="341.3" cy="354.8" r="1.4"/><circle cx="342.5" cy="354.4" r="1.4"/><circle cx="343.7" cy="355.1" r="1.4"/><circle cx="344.8" cy="356.3" r="1.4"/><circle cx="346.0" cy="355.0" r="1.4"/><circle cx="347.2" cy="355.7" r="1.4"/><circle cx="348.4" cy="355.7" r="1.4"/><circle cx="349.6" cy="356.1" r="1.4"/><circle cx="350.8" cy="354.3" r="1.4"/><circle cx="351.9" cy="356.2" r="1.4"/><circle cx="353.1" cy="356.8" r="1.4"/><circle cx="354.3" cy="355.9" r="1.4"/><circle cx="355.5" cy="355.1" r="1.4"/><circle cx="356.7" cy="356.1" r="1.4"/><circle cx="357.9" cy="356.3" r="1.4"/><circle cx="359.1" cy="356.1" r="1.4"/><circle cx="360.2" cy="354.8" r="1.4"/><circle cx="361.4" cy="357.0" r="1.4"/><circle cx="362.6" cy="357.0" r="1.4"/><circle cx="363.8" cy="355.6" r="1.4"/><circle cx="365.0" cy="356.1" r="1.4"/><circle cx="366.2" cy="354.6" r="1.4"/><circle cx="367.3" cy="357.2" r="1.4"/><circle cx="368.5" cy="356.7" r="1.4"/><circle cx="369.7" cy="356.3" r="1.4"/><circle cx="370.9" cy="356.6" r="1.4"/><circle cx="372.1" cy="355.1" r="1.4"/><circle cx="373.3" cy="355.4" r="1.4"/><circle cx="374.5" cy="355.3" r="1.4"/><circle cx="375.6" cy="356.3" r="1.4"/><circle cx="376.8" cy="354.9" r="1.4"/><circle cx="378.0" cy="357.1" r="1.4"/><circle cx="379.2" cy="356.0" r="1.4"/><circle cx="380.4" cy="356.0" r="1.4"/><circle cx="381.6" cy="355.1" r="1.4"/><circle cx="382.7" cy="356.7" r="1.4"/><circle cx="383.9" cy="357.1" r="1.4"/><circle cx="385.1" cy="356.7" r="1.4"/><circle cx="386.3" cy="355.7" r="1.4"/><circle cx="387.5" cy="357.2" r="1.4"/><circle cx="388.7" cy="355.5" r="1.4"/><circle cx="389.9" cy="357.4" r="1.4"/><circle cx="391.0" cy="356.8" r="1.4"/><circle cx="392.2" cy="356.0" r="1.4"/><circle cx="393.4" cy="356.7" r="1.4"/><circle cx="394.6" cy="357.0" r="1.4"/><circle cx="395.8" cy="356.1" r="1.4"/><circle cx="397.0" cy="357.7" r="1.4"/><circle cx="398.1" cy="356.6" r="1.4"/><circle cx="399.3" cy="357.9" r="1.4"/><circle cx="400.5" cy="357.8" r="1.4"/><circle cx="401.7" cy="355.9" r="1.4"/><circle cx="402.9" cy="357.4" r="1.4"/><circle cx="404.1" cy="356.6" r="1.4"/><circle cx="405.3" cy="357.9" r="1.4"/><circle cx="406.4" cy="357.3" r="1.4"/><circle cx="407.6" cy="357.2" r="1.4"/><circle cx="408.8" cy="358.4" r="1.4"/><circle cx="410.0" cy="356.2" r="1.4"/><circle cx="411.2" cy="357.6" r="1.4"/><circle cx="412.4" cy="357.1" r="1.4"/><circle cx="413.5" cy="356.3" r="1.4"/><circle cx="414.7" cy="358.3" r="1.4"/><circle cx="415.9" cy="357.9" r="1.4"/><circle cx="417.1" cy="358.9" r="1.4"/><circle cx="418.3" cy="358.1" r="1.4"/><circle cx="419.5" cy="357.5" r="1.4"/><circle cx="420.7" cy="359.3" r="1.4"/><circle cx="421.8" cy="357.0" r="1.4"/><circle cx="423.0" cy="356.9" r="1.4"/><circle cx="424.2" cy="358.8" r="1.4"/><circle cx="425.4" cy="357.9" r="1.4"/><circle cx="426.6" cy="357.9" r="1.4"/><circle cx="427.8" cy="359.4" r="1.4"/><circle cx="428.9" cy="358.0" r="1.4"/><circle cx="430.1" cy="359.6" r="1.4"/><circle cx="431.3" cy="359.0" r="1.4"/><circle cx="432.5" cy="358.2" r="1.4"/><circle cx="433.7" cy="357.5" r="1.4"/><circle cx="434.9" cy="358.1" r="1.4"/><circle cx="436.0" cy="360.1" r="1.4"/><circle cx="437.2" cy="358.7" r="1.4"/><circle cx="438.4" cy="358.1" r="1.4"/><circle cx="439.6" cy="358.6" r="1.4"/><circle cx="440.8" cy="360.3" r="1.4"/><circle cx="442.0" cy="358.3" r="1.4"/><circle cx="443.2" cy="360.1" r="1.4"/><circle cx="444.3" cy="358.4" r="1.4"/><circle cx="445.5" cy="360.7" r="1.4"/><circle cx="446.7" cy="359.7" r="1.4"/><circle cx="447.9" cy="358.4" r="1.4"/><circle cx="449.1" cy="360.9" r="1.4"/><circle cx="450.3" cy="359.4" r="1.4"/><circle cx="451.4" cy="360.5" r="1.4"/><circle cx="452.6" cy="360.1" r="1.4"/><circle cx="453.8" cy="359.0" r="1.4"/><circle cx="455.0" cy="359.1" r="1.4"/><circle cx="456.2" cy="359.3" r="1.4"/><circle cx="457.4" cy="359.4" r="1.4"/><circle cx="458.6" cy="359.2" r="1.4"/><circle cx="459.7" cy="359.3" r="1.4"/><circle cx="460.9" cy="361.8" r="1.4"/><circle cx="462.1" cy="359.6" r="1.4"/><circle cx="463.3" cy="360.8" r="1.4"/><circle cx="464.5" cy="359.8" r="1.4"/><circle cx="465.7" cy="360.1" r="1.4"/><circle cx="466.8" cy="361.7" r="1.4"/><circle cx="468.0" cy="362.2" r="1.4"/><circle cx="469.2" cy="361.0" r="1.4"/><circle cx="470.4" cy="359.8" r="1.4"/><circle cx="471.6" cy="362.6" r="1.4"/><circle cx="472.8" cy="360.1" r="1.4"/><circle cx="474.0" cy="361.1" r="1.4"/><circle cx="475.1" cy="361.5" r="1.4"/><circle cx="476.3" cy="362.5" r="1.4"/><circle cx="477.5" cy="362.4" r="1.4"/><circle cx="478.7" cy="361.9" r="1.4"/><circle cx="479.9" cy="361.4" r="1.4"/><circle cx="481.1" cy="362.6" r="1.4"/><circle cx="482.2" cy="362.8" r="1.4"/><circle cx="483.4" cy="362.8" r="1.4"/><circle cx="484.6" cy="362.5" r="1.4"/><circle cx="485.8" cy="360.8" r="1.4"/><circle cx="487.0" cy="361.4" r="1.4"/><circle cx="488.2" cy="362.0" r="1.4"/><circle cx="489.4" cy="362.1" r="1.4"/><circle cx="490.5" cy="363.0" r="1.4"/><circle cx="491.7" cy="361.4" r="1.4"/><circle cx="492.9" cy="362.6" r="1.4"/><circle cx="494.1" cy="361.8" r="1.4"/><circle cx="495.3" cy="363.0" r="1.4"/><circle cx="496.5" cy="361.4" r="1.4"/><circle cx="497.6" cy="362.2" r="1.4"/><circle cx="498.8" cy="361.2" r="1.4"/><circle cx="500.0" cy="361.5" r="1.4"/><circle cx="501.2" cy="363.5" r="1.4"/><circle cx="502.4" cy="361.9" r="1.4"/><circle cx="503.6" cy="363.5" r="1.4"/><circle cx="504.7" cy="362.5" r="1.4"/><circle cx="505.9" cy="361.2" r="1.4"/><circle cx="507.1" cy="363.3" r="1.4"/><circle cx="508.3" cy="361.3" r="1.4"/><circle cx="509.5" cy="363.4" r="1.4"/><circle cx="510.7" cy="361.3" r="1.4"/><circle cx="511.9" cy="363.1" r="1.4"/><circle cx="513.0" cy="361.8" r="1.4"/><circle cx="514.2" cy="362.3" r="1.4"/><circle cx="515.4" cy="364.0" r="1.4"/><circle cx="516.6" cy="362.7" r="1.4"/><circle cx="517.8" cy="363.2" r="1.4"/><circle cx="519.0" cy="363.5" r="1.4"/><circle cx="520.1" cy="361.8" r="1.4"/><circle cx="521.3" cy="363.8" r="1.4"/><circle cx="522.5" cy="364.1" r="1.4"/><circle cx="523.7" cy="362.1" r="1.4"/><circle cx="524.9" cy="363.1" r="1.4"/><circle cx="526.1" cy="362.5" r="1.4"/><circle cx="527.3" cy="363.7" r="1.4"/><circle cx="528.4" cy="361.9" r="1.4"/><circle cx="529.6" cy="363.2" r="1.4"/><circle cx="530.8" cy="364.0" r="1.4"/><circle cx="532.0" cy="363.9" r="1.4"/><circle cx="533.2" cy="362.2" r="1.4"/><circle cx="534.4" cy="364.2" r="1.4"/><circle cx="535.5" cy="362.7" r="1.4"/><circle cx="536.7" cy="364.2" r="1.4"/><circle cx="537.9" cy="363.4" r="1.4"/><circle cx="539.1" cy="362.6" r="1.4"/></g>
<text class="s a" x="253.5" y="80">(110)</text>
<text class="s" x="328.6" y="80.6" style="letter-spacing:0.3px">(-121)</text>
<text class="s a" x="196" y="192.5">(-110)</text>
<line x1="274.8" y1="85.4" x2="293.2" y2="104.5" stroke="#000" stroke-width="1.45"/><polygon points="298.8,110.2 289.7,105.1 294.0,100.9" fill="#000"/>
<line x1="350.9" y1="88.2" x2="330.4" y2="100.2" stroke="#000" stroke-width="1.45"/><polygon points="323.5,104.3 330.6,96.6 333.6,101.8" fill="#000"/>
<text class="b" x="162.3" y="17.7" font-size="18">9.0</text>
<text class="b" x="186.7" y="7.9" font-size="10">o</text>
<text class="b" x="505.5" y="313" font-size="20">"0"</text>
<text class="b" x="511" y="355.2" font-size="16">GO</text>
<text class="b" x="319.5" y="424.5" font-size="22" text-anchor="middle">2<tspan font-size="21">&#920;</tspan> [degree]</text>
<text class="b" font-size="24.5" text-anchor="middle" transform="translate(21,141.7) rotate(-90)">Intensity [a.u.]</text>
<!--FOOTFIX--><g fill="#fff"><rect x="175.84" y="394.76" width="3.46" height="2.14"/><rect x="180.59" y="394.76" width="3.35" height="2.14"/><rect x="235.07" y="394.76" width="3.46" height="2.14"/><rect x="239.82" y="394.76" width="3.35" height="2.14"/><rect x="37.28" y="335.86" width="3.46" height="2.14"/><rect x="42.03" y="335.86" width="3.35" height="2.14"/><rect x="259.34" y="78.73" width="3.53" height="2.17"/><rect x="264.19" y="78.73" width="3.41" height="2.17"/><rect x="267.16" y="78.73" width="3.53" height="2.17"/><rect x="272.02" y="78.73" width="3.41" height="2.17"/><rect x="339.42" y="79.33" width="3.53" height="2.17"/><rect x="344.28" y="79.33" width="3.41" height="2.17"/><rect x="356.70" y="79.33" width="3.53" height="2.17"/><rect x="361.56" y="79.33" width="3.41" height="2.17"/><rect x="207.43" y="191.23" width="3.53" height="2.17"/><rect x="212.29" y="191.23" width="3.41" height="2.17"/><rect x="215.26" y="191.23" width="3.53" height="2.17"/><rect x="220.11" y="191.23" width="3.41" height="2.17"/></g>
<!--/FOOTFIX-->
</svg>
</body></html>
